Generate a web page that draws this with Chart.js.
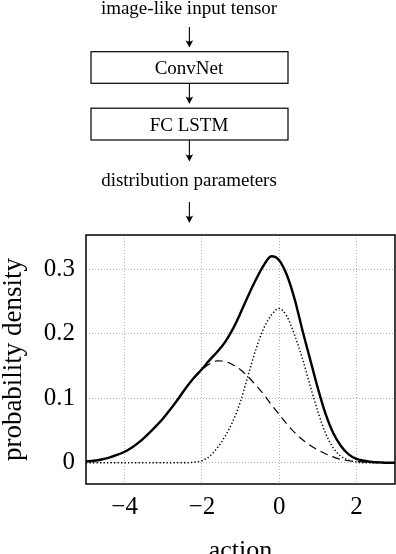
<!DOCTYPE html>
<html>
<head>
<meta charset="utf-8">
<script src="https://cdn.jsdelivr.net/npm/chart.js@4"></script>
<style>
  html, body { margin: 0; padding: 0; background: #fff; overflow: hidden; }
  #page { position: relative; width: 396px; height: 554px; overflow: hidden; }
  #diagram { position: absolute; left: 0; top: 0; }
  #diagram text { font-family: "Liberation Serif", serif; font-size: 19px; fill: #000; }
  #chartBox { position: absolute; left: 0; top: 0; width: 396px; height: 580px; }
</style>
</head>
<body>
<div id="page">
  <div id="chartBox"><canvas id="densityChart"></canvas></div>
  <svg id="diagram" width="396" height="230">
    <text x="189" y="13.5" text-anchor="middle">image-like input tensor</text>
    <rect x="91" y="51.7" width="197" height="31.6" fill="none" stroke="#000" stroke-width="1.2"/>
    <text x="189" y="74" text-anchor="middle">ConvNet</text>
    <rect x="91" y="108.2" width="197" height="31.8" fill="none" stroke="#000" stroke-width="1.2"/>
    <text x="189" y="130.7" text-anchor="middle">FC LSTM</text>
    <text x="189" y="186" text-anchor="middle">distribution parameters</text>
    <g stroke="#000" stroke-width="1.1" fill="none">
      <path d="M189.4 27 V45"/>
      <path d="M189.4 83.5 V101.5"/>
      <path d="M189.4 140 V159"/>
      <path d="M189.4 202 V220.5"/>
    </g>
    <g fill="#000">
      <path d="M185.6 40.3 L189.4 47.6 L193.2 40.3 Q189.4 42.8 185.6 40.3 Z"/>
      <path d="M185.6 96.6 L189.4 103.9 L193.2 96.6 Q189.4 99.1 185.6 96.6 Z"/>
      <path d="M185.6 154.3 L189.4 161.6 L193.2 154.3 Q189.4 156.8 185.6 154.3 Z"/>
      <path d="M185.6 215.6 L189.4 222.9 L193.2 215.6 Q189.4 218.1 185.6 215.6 Z"/>
    </g>
  </svg>
</div>
<script>
const actions = [-5.0, -4.8, -4.6, -4.4, -4.2, -4.0, -3.8, -3.6, -3.4, -3.2, -3.0, -2.8, -2.6, -2.4, -2.2, -2.0, -1.8, -1.6, -1.4, -1.2, -1.0, -0.8, -0.6, -0.4, -0.2, 0.0, 0.2, 0.4, 0.6, 0.8, 1.0, 1.2, 1.4, 1.6, 1.8, 2.0, 2.2, 2.4, 2.6, 2.8, 3.0];

// mixture density (solid)
const mixture = [0.002, 0.003, 0.005, 0.008, 0.012, 0.017, 0.024, 0.033, 0.044, 0.056, 0.069, 0.084, 0.100, 0.117, 0.132, 0.145, 0.159, 0.172, 0.187, 0.207, 0.232, 0.259, 0.284, 0.306, 0.320, 0.314, 0.291, 0.254, 0.206, 0.161, 0.116, 0.076, 0.046, 0.026, 0.013, 0.006, 0.003, 0.001, 0.0005, 0.0, 0.0];

// first component (dashed)
const component1 = [0.002, 0.003, 0.005, 0.008, 0.012, 0.017, 0.024, 0.033, 0.044, 0.056, 0.069, 0.084, 0.100, 0.117, 0.131, 0.144, 0.153, 0.158, 0.157, 0.152, 0.144, 0.133, 0.120, 0.106, 0.090, 0.075, 0.060, 0.047, 0.036, 0.027, 0.020, 0.014, 0.009, 0.005, 0.003, 0.002, 0.001, 0.0005, 0.0, 0.0, 0.0];

// second component (dotted)
const component2 = [0, 0, 0, 0, 0, 0, 0, 0, 0, 0, 0, 0, 0, 0, 0.001, 0.003, 0.010, 0.023, 0.041, 0.064, 0.095, 0.136, 0.176, 0.208, 0.229, 0.239, 0.227, 0.198, 0.162, 0.120, 0.080, 0.046, 0.023, 0.010, 0.004, 0.001, 0, 0, 0, 0, 0];

const xTickValues = [-4, -2, 0, 2];
const xTickLabels = ['\u22124', '\u22122', '0', '2'];
const yTickValues = [0, 0.1, 0.2, 0.3];
const yTickLabels = ['0', '0.1', '0.2', '0.3'];

const toPoints = ys => actions.map((x, i) => ({x: x, y: ys[i]}));

const frame = {
    id: 'frame',
    afterDatasetsDraw(chart) {
        const a = chart.chartArea;
        const ctx = chart.ctx;
        ctx.save();
        ctx.strokeStyle = '#000';
        ctx.lineWidth = 1.5;
        ctx.strokeRect(a.left, a.top, a.right - a.left, a.bottom - a.top);
        ctx.restore();
    }
};

const serif = {family: '"Liberation Serif", serif', size: 25};

new Chart(document.getElementById('densityChart'), {
    type: 'line',
    data: {
        datasets: [{
            data: toPoints(mixture),
            borderColor: '#000',
            borderWidth: 2.4
        }, {
            data: toPoints(component1),
            borderColor: '#000',
            borderWidth: 1.2,
            borderDash: [8, 5]
        }, {
            data: toPoints(component2),
            borderColor: '#000',
            borderWidth: 1.5,
            borderDash: [1.3, 2.2]
        }]
    },
    options: {
        responsive: true,
        maintainAspectRatio: false,
        animation: false,
        layout: {padding: {top: 235, right: 1, left: 0, bottom: 0}},
        elements: {
            point: {radius: 0},
            line: {cubicInterpolationMode: 'monotone', fill: false}
        },
        plugins: {legend: {display: false}, tooltip: {enabled: false}},
        scales: {
            x: {
                type: 'linear',
                min: -5,
                max: 3,
                afterBuildTicks: s => { s.ticks = xTickValues.map(v => ({value: v})); },
                afterFit: s => { s.height = 96; },
                ticks: {
                    color: '#000',
                    font: serif,
                    padding: 8,
                    maxRotation: 0,
                    callback: v => xTickLabels[xTickValues.indexOf(v)]
                },
                grid: {color: '#b0b0b0', lineWidth: 1, drawTicks: false},
                border: {display: false, dash: [1, 2]},
                title: {
                    display: true,
                    text: 'action',
                    color: '#000',
                    font: {family: '"Liberation Serif", serif', size: 26},
                    padding: {top: 0, bottom: 13}
                }
            },
            y: {
                min: -0.033,
                max: 0.353,
                afterBuildTicks: s => { s.ticks = yTickValues.map(v => ({value: v})); },
                afterFit: s => { s.width = 86; },
                ticks: {
                    color: '#000',
                    font: serif,
                    padding: 11,
                    callback: v => yTickLabels[yTickValues.indexOf(v)]
                },
                grid: {color: '#b0b0b0', lineWidth: 1, drawTicks: false},
                border: {display: false, dash: [1, 2]},
                title: {
                    display: true,
                    text: 'probability density',
                    color: '#000',
                    font: {family: '"Liberation Serif", serif', size: 27},
                    padding: {top: -2, bottom: 0}
                }
            }
        }
    },
    plugins: [frame]
});
</script>
</body>
</html>
